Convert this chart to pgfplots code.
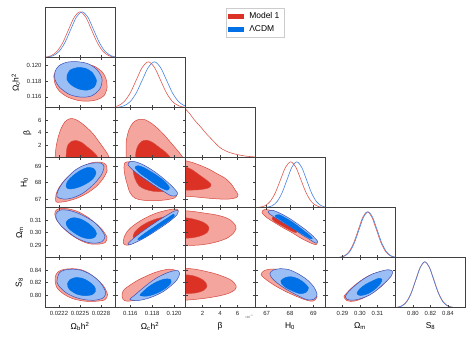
\documentclass[border=0pt]{standalone}
\usepackage{pgfplots}
\pgfplotsset{compat=1.18}
\usepackage{fontspec}
\setmainfont{Liberation Sans}
\definecolor{redD}{RGB}{220,50,38}
\definecolor{redL}{RGB}{243,165,158}
\definecolor{redE}{RGB}{214,72,62}
\definecolor{blueD}{RGB}{0,112,230}
\definecolor{blueL}{RGB}{155,190,245}
\definecolor{blueE}{RGB}{60,80,180}
\definecolor{redLn}{RGB}{222,90,80}
\definecolor{blueLn}{RGB}{70,130,225}
\pgfplotsset{
 tri/.style={scale only axis, width=70bp, height=50bp, anchor=south west,
   scaled ticks=false,
   axis line style={draw=black!75, line width=0.6pt},
   tick align=inside, major tick length=2.5bp,
   every tick/.style={black!75, line width=0.5pt},
   tick label style={font=\fontsize{6}{7}\selectfont, black!85},
   label style={font=\fontsize{8.5}{10}\selectfont},
   xticklabels={}, yticklabels={}, axis on top, clip=true},
 diag/.style={tri, ymin=0, ymax=1.09, ytick=\empty, xtick pos=left},
 xb/.style={xmin=0.0220,xmax=0.0230,xtick={0.0222,0.0225,0.0228}},
 xc/.style={xmin=0.1146,xmax=0.1210,xtick={0.116,0.118,0.120}},
 yc/.style={ymin=0.1146,ymax=0.1210,ytick={0.116,0.118,0.120}},
 xbe/.style={xmin=0,xmax=8,xtick={2,4,6}},
 ybe/.style={ymin=0,ymax=8,ytick={2,4,6}},
 xh/.style={xmin=66.5,xmax=69.5,xtick={67,68,69}},
 yh/.style={ymin=66.5,ymax=69.5,ytick={67,68,69}},
 xm/.style={xmin=0.28,xmax=0.32,xtick={0.29,0.30,0.31}},
 ym/.style={ymin=0.28,ymax=0.32,ytick={0.29,0.30,0.31}},
 xs/.style={xmin=0.78,xmax=0.86,xtick={0.80,0.82,0.84}},
 ys/.style={ymin=0.78,ymax=0.86,ytick={0.80,0.82,0.84}},
 ro/.style={fill=redL, draw=redE, line width=0.5pt, smooth cycle},
 ri/.style={fill=redD, draw=redE, line width=0.4pt, smooth cycle},
 bo/.style={fill=blueL, draw=blueE, line width=0.5pt, smooth cycle},
 bi/.style={fill=blueD, draw=blueD, line width=0.4pt, smooth cycle},
 rl/.style={draw=redLn, line width=0.6pt, smooth},
 bl/.style={draw=blueLn, line width=0.6pt, smooth},
}
\begin{document}
\begin{tikzpicture}
\useasboundingbox (0,0) rectangle (474bp,339bp);
% ---------------- row 1 ----------------
\begin{axis}[diag, xb, at={(45bp,281.3bp)},
  legend style={at={(2.58,1)}, anchor=north west, draw=black!20, fill=white,
    font=\fontsize{8.5}{10}\selectfont, inner sep=2.5bp, row sep=1.5bp,
    /tikz/every odd column/.append style={column sep=3bp}},
  legend cell align=left,
  legend image code/.code={\fill[#1, draw=none] (0bp,-2.3bp) rectangle (16bp,2.3bp);}]
\addlegendimage{fill=redD, draw=none}\addlegendentry{Model 1}
\addlegendimage{fill=blueD, draw=none}\addlegendentry{ΛCDM}
\addplot[rl] coordinates {(0.021923,0.0022)(0.022005,0.0111)(0.022088,0.0439)(0.02217,0.1353)(0.022253,0.3247)(0.022335,0.6065)(0.022418,0.8825)(0.0225,1)(0.022583,0.8825)(0.022665,0.6065)(0.022748,0.3247)(0.02283,0.1353)(0.022913,0.0439)(0.022995,0.0111)(0.023078,0.0022)};
\addplot[bl] coordinates {(0.021953,0.0022)(0.022035,0.0111)(0.022118,0.0439)(0.0222,0.1353)(0.022283,0.3247)(0.022365,0.6065)(0.022448,0.8825)(0.02253,1)(0.022613,0.8825)(0.022695,0.6065)(0.022778,0.3247)(0.02286,0.1353)(0.022943,0.0439)(0.023025,0.0111)(0.023108,0.0022)};
\end{axis}
% ---------------- row 2 ----------------
\begin{axis}[tri, xb, yc, at={(45bp,231.3bp)}, yticklabels={0.116,0.118,0.120}, ylabel={Ω\textsubscript{c}h\textsuperscript{2}}]
\addplot[ro] coordinates {(0.022129,0.118824)(0.022143,0.117672)(0.0222,0.116776)(0.022314,0.116008)(0.022457,0.11556)(0.0226,0.115432)(0.022743,0.115624)(0.022843,0.116136)(0.022886,0.11716)(0.022871,0.118312)(0.022814,0.119208)(0.022686,0.119976)(0.0225,0.120232)(0.022314,0.120104)(0.022186,0.119592)};
\addplot[bo] coordinates {(0.022143,0.119208)(0.0222,0.119976)(0.022314,0.120424)(0.022457,0.120488)(0.022614,0.120232)(0.022743,0.119464)(0.022814,0.118312)(0.022786,0.117032)(0.022671,0.116136)(0.022529,0.115944)(0.022357,0.116264)(0.022214,0.11716)(0.022143,0.118184)};
\addplot[bi] coordinates {(0.022314,0.118696)(0.022357,0.1194)(0.022457,0.11972)(0.022571,0.119656)(0.022671,0.119144)(0.022736,0.118056)(0.0227,0.117224)(0.0226,0.11684)(0.022471,0.117032)(0.022371,0.117544)(0.022314,0.118184)};
\end{axis}
\begin{axis}[diag, xc, at={(115bp,231.3bp)}]
\addplot[rl] coordinates {(0.11380,0.0022)(0.11435,0.0111)(0.1149,0.0439)(0.11545,0.1353)(0.1160,0.3247)(0.11655,0.6065)(0.1171,0.8825)(0.11765,1)(0.1182,0.8825)(0.11875,0.6065)(0.1193,0.3247)(0.11985,0.1353)(0.1204,0.0439)(0.12095,0.0111)(0.1215,0.0022)};
\addplot[bl] coordinates {(0.11435,0.0022)(0.1149,0.0111)(0.11545,0.0439)(0.1160,0.1353)(0.11655,0.3247)(0.1171,0.6065)(0.11765,0.8825)(0.1182,1)(0.11875,0.8825)(0.1193,0.6065)(0.11985,0.3247)(0.1204,0.1353)(0.12095,0.0439)(0.1215,0.0111)(0.12205,0.0022)};
\end{axis}
% ---------------- row 3 ----------------
\begin{axis}[tri, xb, ybe, at={(45bp,181.3bp)}, yticklabels={2,4,6}, ylabel={β}]
\addplot[ro] coordinates {(0.022143,0)(0.022157,1.6)(0.022186,3.2)(0.022229,4.64)(0.022286,5.76)(0.022357,6.24)(0.022429,6.16)(0.022514,5.6)(0.0226,4.8)(0.022686,3.84)(0.022771,2.56)(0.022843,1.44)(0.0229,0.48)(0.022914,0)(0.022943,-0.8)(0.022114,-0.8)};
\addplot[ri] coordinates {(0.0223,0)(0.022307,1.12)(0.022329,2.08)(0.022386,2.64)(0.022457,2.72)(0.022529,2.4)(0.0226,1.76)(0.022671,1.12)(0.022729,0.48)(0.022757,0)(0.022771,-0.8)(0.022286,-0.8)};
\end{axis}
\begin{axis}[tri, xc, ybe, at={(115bp,181.3bp)}]
\addplot[ro] coordinates {(0.11561,0)(0.11561,1.28)(0.11565,2.88)(0.11588,4.48)(0.11625,5.6)(0.11670,6.08)(0.11734,6.08)(0.11798,5.44)(0.11853,4.64)(0.11908,3.68)(0.11963,2.56)(0.12018,1.44)(0.12063,0.48)(0.12082,0)(0.12100,-0.8)(0.11542,-0.8)};
\addplot[ri] coordinates {(0.11647,0)(0.11652,0.96)(0.11670,1.92)(0.11707,2.64)(0.11752,2.8)(0.11807,2.4)(0.11862,1.68)(0.11917,0.96)(0.11954,0.32)(0.11963,0)(0.11972,-0.8)(0.11643,-0.8)};
\end{axis}
\begin{axis}[diag, xbe, at={(185bp,181.3bp)}]
\addplot[rl] coordinates {(0,1.07)(0.5,0.97)(1,0.84)(1.7,0.69)(2.5,0.51)(3,0.41)(4,0.22)(5,0.12)(6,0.067)(7,0.033)(8,0.017)};
\end{axis}
% ---------------- row 4 ----------------
\begin{axis}[tri, xb, yh, at={(45bp,131.3bp)}, yticklabels={67,68,69}, ylabel={H\textsubscript{0}}]
\addplot[ro] coordinates {(0.022157,66.86)(0.022157,67.28)(0.0222,67.7)(0.022286,68.18)(0.0224,68.6)(0.022529,68.96)(0.022671,69.2)(0.0228,69.23)(0.022871,69.08)(0.022886,68.72)(0.022829,68.24)(0.022729,67.76)(0.0226,67.37)(0.022457,67.07)(0.022314,66.89)(0.022214,66.83)};
\addplot[bo] coordinates {(0.022171,67.16)(0.022186,67.52)(0.022243,67.94)(0.022329,68.36)(0.022429,68.75)(0.022543,69.02)(0.022671,69.17)(0.0228,69.17)(0.022843,68.96)(0.022814,68.54)(0.022743,68.12)(0.022643,67.7)(0.022529,67.34)(0.0224,67.1)(0.022271,67.01)};
\addplot[bi] coordinates {(0.0223,67.82)(0.022329,68.12)(0.0224,68.42)(0.0225,68.72)(0.0226,68.9)(0.022686,68.87)(0.022729,68.6)(0.022686,68.24)(0.0226,67.97)(0.0225,67.76)(0.0224,67.64)(0.022329,67.64)};
\end{axis}
\begin{axis}[tri, xc, yh, at={(115bp,131.3bp)}]
\addplot[ro] coordinates {(0.11542,68.9)(0.11551,69.2)(0.11597,69.26)(0.11661,69.14)(0.11734,68.9)(0.11826,68.54)(0.11917,68.06)(0.11990,67.64)(0.12027,67.34)(0.12008,67.1)(0.11935,66.98)(0.11826,66.92)(0.11716,66.95)(0.11643,67.07)(0.11597,67.4)(0.11570,67.94)(0.11551,68.42)};
\addplot[ri] coordinates {(0.11625,68.72)(0.11643,68.24)(0.11679,67.82)(0.11734,67.61)(0.11807,67.49)(0.11890,67.46)(0.11954,67.49)(0.11935,67.82)(0.11844,68.18)(0.11752,68.54)(0.11679,68.84)(0.11634,68.9)};
\addplot[bo] coordinates {(0.11579,69.08)(0.11597,69.26)(0.11643,69.26)(0.11707,69.11)(0.11780,68.84)(0.11853,68.51)(0.11926,68.12)(0.11990,67.73)(0.12031,67.4)(0.12018,67.22)(0.11972,67.22)(0.11908,67.46)(0.11835,67.76)(0.11762,68.09)(0.11688,68.42)(0.11625,68.75)};
\addplot[bi] coordinates {(0.11643,68.9)(0.11670,69.02)(0.11725,68.9)(0.11789,68.66)(0.11853,68.39)(0.11917,68.06)(0.11958,67.7)(0.11935,67.55)(0.11880,67.7)(0.11816,67.97)(0.11752,68.27)(0.11688,68.57)};
\end{axis}
\begin{axis}[tri, xbe, yh, at={(185bp,131.3bp)}]
\addplot[ro] coordinates {(-0.57,69.32)(0,69.32)(0.91,69.2)(1.83,69.02)(2.74,68.81)(3.66,68.54)(4.57,68.27)(5.26,67.94)(5.71,67.58)(6.06,67.28)(5.83,67.1)(4.8,67.01)(3.43,67.04)(2.06,67.1)(0.91,67.16)(0,67.19)(-0.57,67.19)};
\addplot[ri] coordinates {(-0.57,68.96)(0,68.96)(0.8,68.78)(1.6,68.48)(2.4,68.18)(2.97,67.91)(2.74,67.7)(1.71,67.58)(0,67.55)(-0.57,67.55)};
\end{axis}
\begin{axis}[diag, xh, at={(255bp,131.3bp)}]
\addplot[rl] coordinates {(66.49,0.0022)(66.71,0.0111)(66.93,0.0439)(67.15,0.1353)(67.37,0.3247)(67.59,0.6065)(67.81,0.8825)(68.03,1)(68.25,0.8825)(68.47,0.6065)(68.69,0.3247)(68.91,0.1353)(69.13,0.0439)(69.35,0.0111)(69.57,0.0022)};
\addplot[bl] coordinates {(66.5,0)(66.82,0.0022)(67.03,0.0111)(67.24,0.0439)(67.45,0.1353)(67.66,0.3247)(67.87,0.6065)(68.08,0.8825)(68.29,1)(68.50,0.8825)(68.71,0.6065)(68.92,0.3247)(69.13,0.1353)(69.34,0.0439)(69.55,0.0111)(69.76,0.0022)};
\end{axis}
% ---------------- row 5 ----------------
\begin{axis}[tri, xb, ym, at={(45bp,81.3bp)}, yticklabels={0.29,0.30,0.31}, ylabel={Ω\textsubscript{m}}]
\addplot[ro] coordinates {(0.022143,0.3168)(0.0222,0.3192)(0.022314,0.3192)(0.022457,0.3172)(0.0226,0.3128)(0.022729,0.3072)(0.022829,0.3016)(0.022886,0.296)(0.022857,0.292)(0.022757,0.2908)(0.022629,0.2912)(0.022514,0.2936)(0.022371,0.2984)(0.022243,0.3048)(0.022157,0.3112)};
\addplot[bo] coordinates {(0.022157,0.3152)(0.022214,0.318)(0.022329,0.318)(0.022471,0.3156)(0.022614,0.3116)(0.022729,0.3072)(0.022814,0.3016)(0.022857,0.2968)(0.022814,0.2928)(0.022714,0.2916)(0.0226,0.2924)(0.022471,0.2952)(0.022343,0.30)(0.022229,0.3056)(0.022164,0.3108)};
\addplot[bi] coordinates {(0.0223,0.308)(0.022343,0.3108)(0.022414,0.312)(0.022514,0.3108)(0.022614,0.3076)(0.0227,0.3032)(0.022736,0.2992)(0.0227,0.296)(0.022614,0.2952)(0.022514,0.2968)(0.022414,0.30)(0.022329,0.304)};
\end{axis}
\begin{axis}[tri, xc, ym, at={(115bp,81.3bp)}]
\addplot[ro] coordinates {(0.11538,0.2912)(0.11542,0.296)(0.11570,0.3008)(0.11615,0.3048)(0.11679,0.3088)(0.11752,0.3124)(0.11835,0.3156)(0.11917,0.3176)(0.11981,0.3188)(0.12027,0.3188)(0.12036,0.3168)(0.11990,0.3128)(0.11917,0.308)(0.11826,0.3024)(0.11734,0.2972)(0.11652,0.2928)(0.11579,0.29)};
\addplot[ri] coordinates {(0.11625,0.2968)(0.11643,0.3008)(0.11698,0.3052)(0.11771,0.3088)(0.11844,0.3112)(0.11917,0.3128)(0.11963,0.3136)(0.11972,0.3104)(0.11899,0.3056)(0.11807,0.3008)(0.11716,0.296)(0.11652,0.2944)};
\addplot[bo] coordinates {(0.11579,0.2912)(0.11615,0.2944)(0.11688,0.2996)(0.11771,0.3048)(0.11853,0.3096)(0.11935,0.314)(0.11999,0.3172)(0.12036,0.3176)(0.12027,0.3144)(0.11972,0.31)(0.11890,0.3048)(0.11807,0.30)(0.11725,0.2956)(0.11643,0.292)(0.11597,0.2904)};
\addplot[bi] coordinates {(0.11670,0.2952)(0.11734,0.2996)(0.11807,0.304)(0.11880,0.3084)(0.11944,0.312)(0.11995,0.3148)(0.11999,0.3128)(0.11935,0.3084)(0.11862,0.304)(0.11789,0.2996)(0.11716,0.2956)(0.11679,0.2944)};
\end{axis}
\begin{axis}[tri, xbe, ym, at={(185bp,81.3bp)}]
\addplot[ro] coordinates {(-0.57,0.3176)(0,0.3176)(1.14,0.3168)(2.29,0.3156)(3.43,0.3144)(4.34,0.3128)(5.14,0.3104)(5.71,0.3064)(5.83,0.3032)(5.49,0.2992)(4.8,0.2956)(3.89,0.2932)(2.74,0.2912)(1.37,0.29)(0,0.29)(-0.57,0.29)};
\addplot[ri] coordinates {(-0.57,0.312)(0,0.312)(1.03,0.3108)(1.94,0.3088)(2.51,0.3064)(2.74,0.3036)(2.51,0.30)(1.83,0.2976)(0.91,0.296)(0,0.2956)(-0.57,0.2956)};
\end{axis}
\begin{axis}[tri, xh, ym, at={(255bp,81.3bp)}]
\addplot[ro] coordinates {(66.80,0.316)(66.89,0.3184)(67.14,0.318)(67.53,0.3152)(67.91,0.3112)(68.30,0.3064)(68.69,0.3008)(68.99,0.296)(69.16,0.2924)(69.11,0.2904)(68.86,0.292)(68.47,0.2956)(68.09,0.30)(67.70,0.304)(67.31,0.3084)(67.01,0.312)};
\addplot[ri] coordinates {(67.23,0.312)(67.44,0.3128)(67.74,0.31)(68.04,0.3064)(68.30,0.3028)(68.26,0.30)(67.96,0.3024)(67.61,0.306)(67.31,0.3092)};
\addplot[bo] coordinates {(67.06,0.3168)(67.23,0.318)(67.57,0.3156)(67.96,0.3116)(68.34,0.3068)(68.69,0.302)(68.99,0.2972)(69.18,0.2932)(69.11,0.2916)(68.86,0.2944)(68.51,0.2984)(68.13,0.3032)(67.74,0.3076)(67.40,0.3116)(67.14,0.3148)};
\addplot[bi] coordinates {(67.36,0.3136)(67.53,0.3144)(67.83,0.3116)(68.17,0.3076)(68.51,0.3028)(68.81,0.2984)(68.96,0.2956)(68.88,0.2952)(68.64,0.2976)(68.30,0.3016)(67.96,0.3056)(67.61,0.31)(67.40,0.3124)};
\end{axis}
\begin{axis}[diag, xm, at={(325bp,81.3bp)}]
\addplot[rl] coordinates {(0.28,0)(0.2860,0.0022)(0.2886,0.0111)(0.2912,0.0439)(0.2938,0.1353)(0.2964,0.3247)(0.2990,0.6065)(0.3016,0.8825)(0.3042,1)(0.3068,0.8825)(0.3094,0.6065)(0.3120,0.3247)(0.3146,0.1353)(0.3172,0.0439)(0.3198,0.0111)(0.3224,0.0022)};
\addplot[bl] coordinates {(0.28,0)(0.2864,0.0022)(0.2890,0.0111)(0.2916,0.0439)(0.2942,0.1353)(0.2968,0.3247)(0.2994,0.6065)(0.3020,0.8825)(0.3046,1)(0.3072,0.8825)(0.3098,0.6065)(0.3124,0.3247)(0.3150,0.1353)(0.3176,0.0439)(0.3202,0.0111)(0.3228,0.0022)};
\end{axis}
% ---------------- row 6 ----------------
\begin{axis}[tri, xb, ys, at={(45bp,31.3bp)}, yticklabels={0.80,0.82,0.84}, xticklabels={0.0222,0.0225,0.0228}, ylabel={S\textsubscript{8}}, xlabel={Ω\textsubscript{b}h\textsuperscript{2}}]
\addplot[ro] coordinates {(0.022143,0.8248)(0.022157,0.8328)(0.0222,0.8384)(0.022286,0.8416)(0.0224,0.8424)(0.022514,0.8408)(0.022614,0.836)(0.022743,0.8256)(0.022843,0.8136)(0.022893,0.8008)(0.022857,0.7928)(0.022743,0.7904)(0.022571,0.7904)(0.0224,0.7944)(0.022271,0.8016)(0.022171,0.812)};
\addplot[bo] coordinates {(0.022179,0.828)(0.022207,0.836)(0.022271,0.84)(0.022386,0.8416)(0.022514,0.84)(0.022657,0.8328)(0.022786,0.8208)(0.022864,0.8056)(0.022836,0.796)(0.022714,0.792)(0.022571,0.7928)(0.022429,0.7968)(0.0223,0.804)(0.022207,0.8136)(0.022171,0.8208)};
\addplot[bi] coordinates {(0.022321,0.8184)(0.022357,0.8248)(0.022429,0.828)(0.022529,0.8272)(0.022629,0.8216)(0.022707,0.8136)(0.022721,0.8064)(0.022671,0.8008)(0.022571,0.7992)(0.022457,0.8016)(0.022371,0.8072)(0.022329,0.8128)};
\end{axis}
\begin{axis}[tri, xc, ys, at={(115bp,31.3bp)}, xticklabels={0.116,0.118,0.120}, xlabel={Ω\textsubscript{c}h\textsuperscript{2}}]
\addplot[ro] coordinates {(0.11524,0.8008)(0.11542,0.8088)(0.11597,0.816)(0.11661,0.8232)(0.11734,0.8296)(0.11807,0.8352)(0.11880,0.8392)(0.11954,0.8416)(0.12008,0.84)(0.12027,0.8328)(0.11999,0.8232)(0.11935,0.8144)(0.11853,0.804)(0.11762,0.7976)(0.11661,0.7928)(0.11570,0.7904)(0.11533,0.7936)};
\addplot[bo] coordinates {(0.11597,0.7936)(0.11634,0.7992)(0.11698,0.8088)(0.11771,0.8192)(0.11844,0.828)(0.11917,0.8344)(0.11981,0.8384)(0.12036,0.8392)(0.12050,0.8336)(0.12027,0.8248)(0.11972,0.8152)(0.11899,0.8056)(0.11816,0.7984)(0.11734,0.7936)(0.11652,0.7912)};
\addplot[bi] coordinates {(0.11688,0.80)(0.11725,0.8072)(0.11780,0.8152)(0.11844,0.8216)(0.11908,0.8256)(0.11963,0.8256)(0.11972,0.82)(0.11935,0.8128)(0.11871,0.8056)(0.11807,0.8008)(0.11743,0.7984)};
\end{axis}
\begin{axis}[tri, xbe, ys, at={(185bp,31.3bp)}, xticklabels={2,4,6}, xlabel={β}]
\addplot[ro] coordinates {(-0.57,0.8432)(0,0.8432)(1.14,0.8416)(2.29,0.8384)(3.43,0.8344)(4.57,0.8288)(5.37,0.8232)(5.83,0.8152)(5.71,0.8088)(5.03,0.8032)(4.0,0.7992)(2.74,0.796)(1.37,0.7936)(0,0.792)(-0.57,0.792)};
\addplot[ri] coordinates {(-0.57,0.8328)(0,0.8328)(0.91,0.8312)(1.71,0.8272)(2.29,0.8216)(2.51,0.8144)(2.17,0.808)(1.37,0.804)(0.46,0.8027)(0,0.8024)(-0.57,0.8024)};
\end{axis}
\begin{axis}[tri, xh, ys, at={(255bp,31.3bp)}, xticklabels={67,68,69}, xlabel={H\textsubscript{0}}]
\addplot[ro] coordinates {(66.76,0.8328)(66.89,0.8392)(67.14,0.8416)(67.44,0.8416)(67.87,0.8376)(68.30,0.8296)(68.73,0.8184)(69.03,0.8072)(69.16,0.7976)(68.99,0.7904)(68.64,0.7928)(68.21,0.7992)(67.79,0.8064)(67.36,0.8152)(67.01,0.824)};
\addplot[bo] coordinates {(67.14,0.8344)(67.27,0.84)(67.57,0.8424)(67.96,0.8408)(68.34,0.8344)(68.73,0.8248)(69.03,0.8128)(69.16,0.8008)(69.03,0.7936)(68.73,0.7928)(68.30,0.80)(67.87,0.8088)(67.49,0.8184)(67.23,0.8272)};
\addplot[bi] coordinates {(67.61,0.8232)(67.79,0.828)(68.04,0.8296)(68.34,0.8264)(68.60,0.82)(68.79,0.812)(68.69,0.8048)(68.43,0.8024)(68.13,0.8064)(67.83,0.812)(67.66,0.8176)};
\end{axis}
\begin{axis}[tri, xm, ys, at={(325bp,31.3bp)}, xticklabels={0.29,0.30,0.31}, xlabel={Ω\textsubscript{m}}]
\addplot[ro] coordinates {(0.29085,0.7976)(0.29256,0.804)(0.29599,0.8136)(0.29999,0.8224)(0.30455,0.8304)(0.30969,0.836)(0.31426,0.8392)(0.31769,0.8392)(0.31826,0.8344)(0.31597,0.8248)(0.31198,0.8136)(0.30684,0.8032)(0.3017,0.7952)(0.29656,0.7904)(0.29256,0.7912)};
\addplot[bo] coordinates {(0.2917,0.7984)(0.2937,0.8064)(0.2977,0.8168)(0.30227,0.8264)(0.30684,0.8336)(0.31198,0.8384)(0.31597,0.8408)(0.31854,0.8384)(0.31797,0.8312)(0.31483,0.8216)(0.31083,0.8112)(0.30627,0.8016)(0.30113,0.7952)(0.29599,0.792)(0.29256,0.7936)};
\addplot[bi] coordinates {(0.29827,0.8032)(0.29999,0.8104)(0.30341,0.8176)(0.30741,0.8232)(0.31083,0.8272)(0.31255,0.8248)(0.3114,0.8176)(0.30855,0.8096)(0.30512,0.8032)(0.3017,0.80)(0.29941,0.80)};
\end{axis}
\begin{axis}[diag, xs, at={(395.5bp,31.3bp)}, xticklabels={0.80,0.82,0.84}, xlabel={S\textsubscript{8}}]
\addplot[rl] coordinates {(0.7771,0.0022)(0.7823,0.0111)(0.7875,0.0439)(0.7927,0.1353)(0.7979,0.3247)(0.8031,0.6065)(0.8083,0.8825)(0.8135,1)(0.8187,0.8825)(0.8239,0.6065)(0.8291,0.3247)(0.8343,0.1353)(0.8395,0.0439)(0.8447,0.0111)(0.8499,0.0022)(0.86,0)};
\addplot[bl] coordinates {(0.7778,0.0022)(0.7829,0.0111)(0.7880,0.0439)(0.7931,0.1353)(0.7982,0.3247)(0.8033,0.6065)(0.8084,0.8825)(0.8135,1)(0.8186,0.8825)(0.8237,0.6065)(0.8288,0.3247)(0.8339,0.1353)(0.8390,0.0439)(0.8441,0.0111)(0.8492,0.0022)(0.86,0)};
\end{axis}
\node[font=\fontsize{3}{3}\selectfont, text=black!70] at (249bp,22bp) {×10\textsuperscript{−3}};
\end{tikzpicture}
\end{document}
